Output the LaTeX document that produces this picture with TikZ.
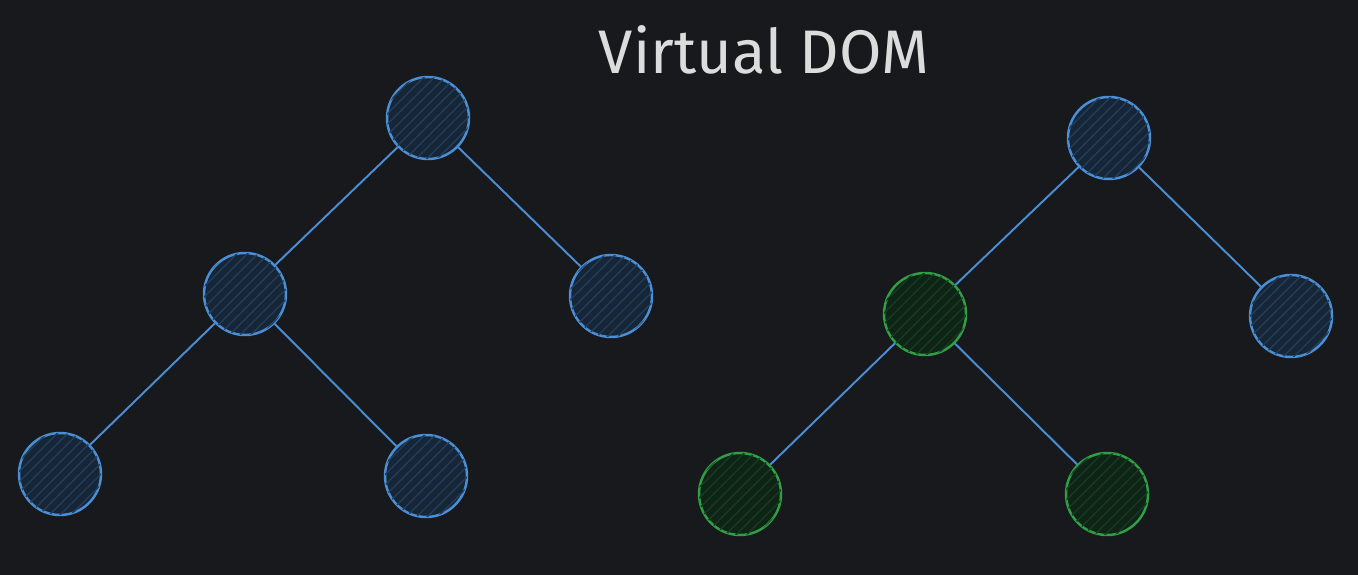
\documentclass[tikz,border=0pt]{standalone}
\usepackage{fontspec}
\setmainfont{Fira Sans}
\usetikzlibrary{patterns}
\definecolor{bg}{HTML}{17191C}
\definecolor{vblue}{HTML}{4A8FD6}
\definecolor{vbluefill}{HTML}{172636}
\definecolor{vgreen}{HTML}{2F9E44}
\definecolor{vgreenfill}{HTML}{0F2317}
\definecolor{title}{HTML}{DCDCDC}

\tikzset{
  vnode/.style = {circle, draw=vblue, line width=0.7pt, fill=vbluefill, minimum size=0.82cm, inner sep=0pt,
                  postaction={pattern=north east lines, pattern color=vblue!22!vbluefill}},
  gnode/.style = {circle, draw=vgreen, line width=0.7pt, fill=vgreenfill, minimum size=0.82cm, inner sep=0pt,
                  postaction={pattern=north east lines, pattern color=vgreen!20!vgreenfill}},
  edge/.style  = {draw=vblue, line width=0.55pt}
}

\begin{document}
\begin{tikzpicture}
      \fill[bg] (0,0) rectangle (13.58,5.75);
      \useasboundingbox (0,0) rectangle (13.58,5.75);

      \node[text=title, font=\fontsize{17.5}{20}\selectfont] (title) at (7.64,5.25) {Virtual DOM};

      % old tree
      \node[vnode] (a)  at (4.28,4.57) {};
      \node[vnode] (b)  at (2.45,2.81) {};
      \node[vnode] (c)  at (6.11,2.79) {};
      \node[vnode] (d)  at (0.60,1.01) {};
      \node[vnode] (e)  at (4.26,0.99) {};

      \draw[edge] (a) -- (b);
      \draw[edge] (a) -- (c);
      \draw[edge] (b) -- (d);
      \draw[edge] (b) -- (e);

      % new tree
      \node[vnode] (a2) at (11.09,4.37) {};
      \node[gnode] (b2) at (9.25,2.61) {};
      \node[vnode] (c2) at (12.91,2.59) {};
      \node[gnode] (d2) at (7.40,0.81) {};
      \node[gnode] (e2) at (11.07,0.81) {};

      \draw[edge] (a2) -- (b2);
      \draw[edge] (a2) -- (c2);
      \draw[edge] (b2) -- (d2);
      \draw[edge] (b2) -- (e2);
\end{tikzpicture}
\end{document}
